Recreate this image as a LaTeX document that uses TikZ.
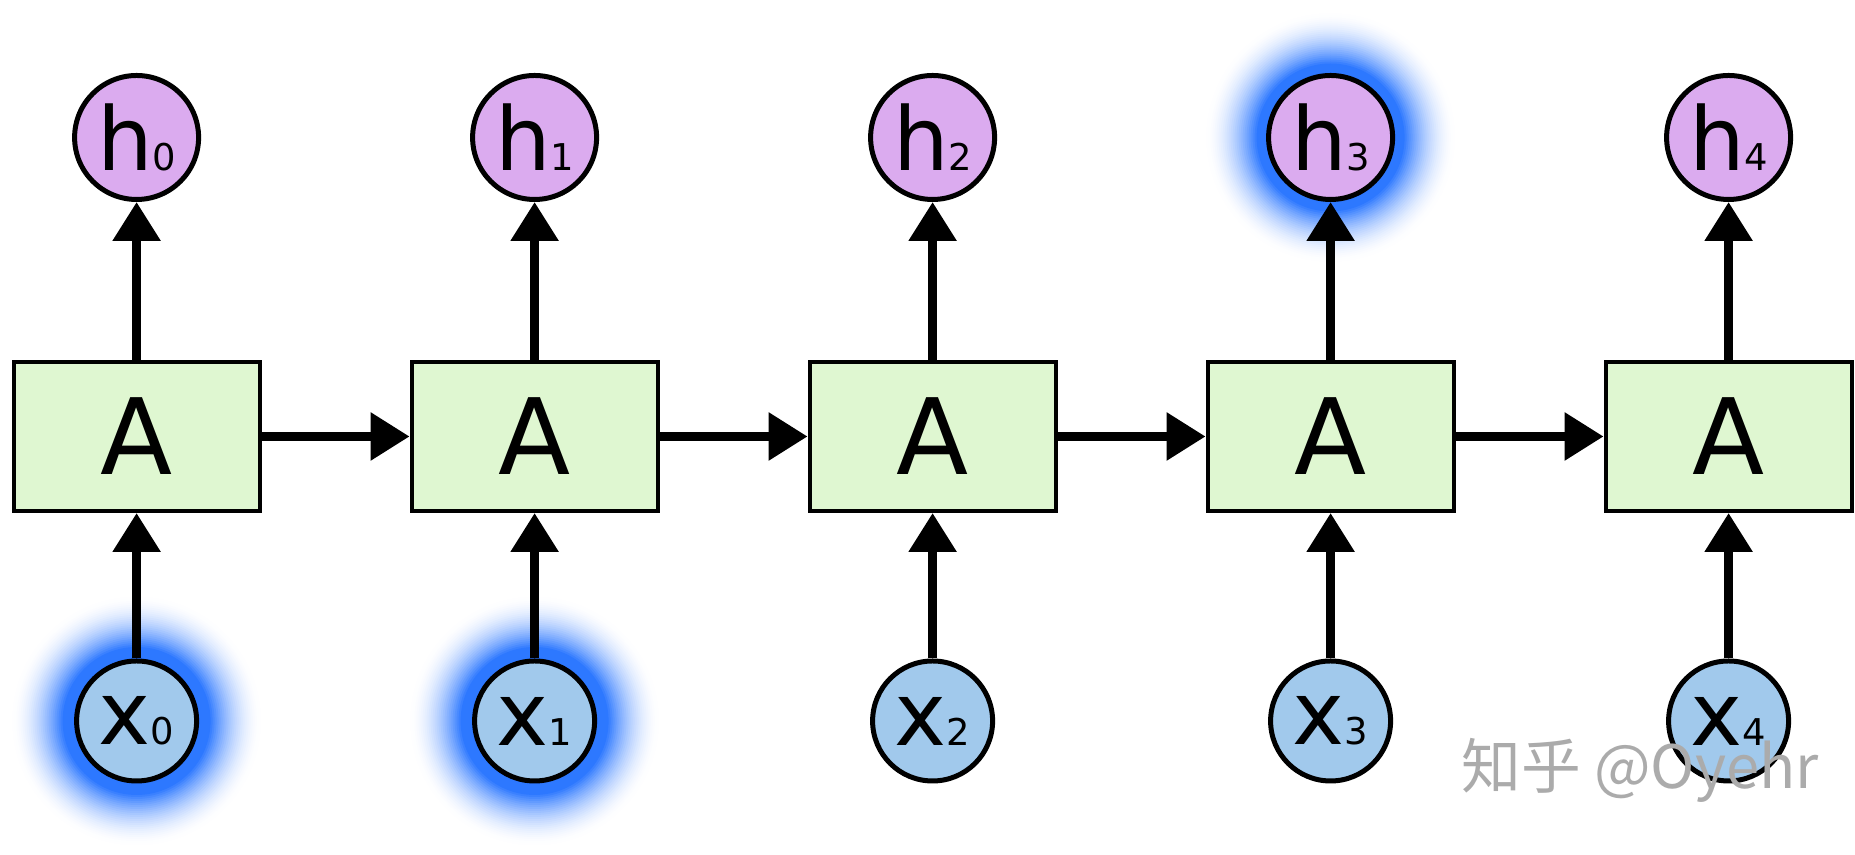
\documentclass[tikz,border=0pt]{standalone}
\usepackage{fontspec}
\setmainfont{DejaVu Sans}
\newfontfamily\cjkfont{Noto Sans CJK SC}
\usetikzlibrary{arrows.meta,backgrounds}
\definecolor{hidfill}{RGB}{219,171,239}
\definecolor{inpfill}{RGB}{161,201,236}
\definecolor{cellfill}{RGB}{223,247,209}
\definecolor{glowblue}{RGB}{45,120,255}
\newcommand{\subidx}[1]{{\fontsize{10.5pt}{10.5pt}\selectfont #1}}

\begin{document}
\begin{tikzpicture}[>={Triangle[length=0.39cm,width=0.46cm]},node distance=3.98cm,
    cell node/.style={rectangle,draw,line width=0.04cm,fill=cellfill,minimum width=2.46cm,minimum height=1.49cm,inner sep=0pt,font=\fontsize{30pt}{30pt}\selectfont},
    hid node/.style={circle,draw,line width=0.05cm,fill=hidfill,minimum size=1.24cm,inner sep=0pt,font=\fontsize{25pt}{25pt}\selectfont},
    inp node/.style={circle,draw,line width=0.05cm,fill=inpfill,minimum size=1.2cm,inner sep=0pt,font=\fontsize{25pt}{25pt}\selectfont}]
                \useasboundingbox (0,0) rectangle (18.55,8.55);

                \node[cell node] (A0) at (1.366,4.185) {A};
                \node[cell node] (A1) [right of=A0] {A};
                \node[cell node] (A2) [right of=A1] {A};
                \node[cell node] (A3) [right of=A2] {A};
                \node[cell node] (A4) [right of=A3] {A};

                \node[hid node] (h0) [node distance=2.99cm,above of=A0] {h\subidx{0}};
                \node[hid node] (h1) [node distance=2.99cm,above of=A1] {h\subidx{1}};
                \node[hid node] (h2) [node distance=2.99cm,above of=A2] {h\subidx{2}};
                \node[hid node] (h3) [node distance=2.99cm,above of=A3] {h\subidx{3}};
                \node[hid node] (h4) [node distance=2.99cm,above of=A4] {h\subidx{4}};

                \node[inp node] (x0) [node distance=2.845cm,below of=A0] {x\subidx{0}};
                \node[inp node] (x1) [node distance=2.845cm,below of=A1] {x\subidx{1}};
                \node[inp node] (x2) [node distance=2.845cm,below of=A2] {x\subidx{2}};
                \node[inp node] (x3) [node distance=2.845cm,below of=A3] {x\subidx{3}};
                \node[inp node] (x4) [node distance=2.845cm,below of=A4] {x\subidx{4}};

                % highlighted nodes: glow drawn from outside in
                \begin{pgfonlayer}{background}
                    \foreach \n in {x0,x1,h3}
                        \foreach \i in {0,...,34} {
                            \pgfmathsetmacro\rr{1.3-0.02*\i}
                            \pgfmathsetmacro\tt{max(0,min(1,(\rr-0.74)/0.52))}
                            \pgfmathsetmacro\pc{100*(1-\tt)^1.8}
                            \fill[glowblue!\pc!white] (\n.center) circle (\rr cm);
                        }
                \end{pgfonlayer}

                \path[->,every edge/.style={draw,line width=0.09cm}]
                    (x0) edge (A0)
                    (x1) edge (A1)
                    (x2) edge (A2)
                    (x3) edge (A3)
                    (x4) edge (A4)
                    (A0) edge (h0)
                    (A1) edge (h1)
                    (A2) edge (h2)
                    (A3) edge (h3)
                    (A4) edge (h4)
                    (A0) edge (A1)
                    (A1) edge (A2)
                    (A2) edge (A3)
                    (A3) edge (A4)
                    ;

                \node[text=black!33,font=\cjkfont\fontsize{17pt}{17pt}\selectfont] (mark) at (16.4,0.85) {知乎 @Oyehr};
            \end{tikzpicture}
\end{document}
